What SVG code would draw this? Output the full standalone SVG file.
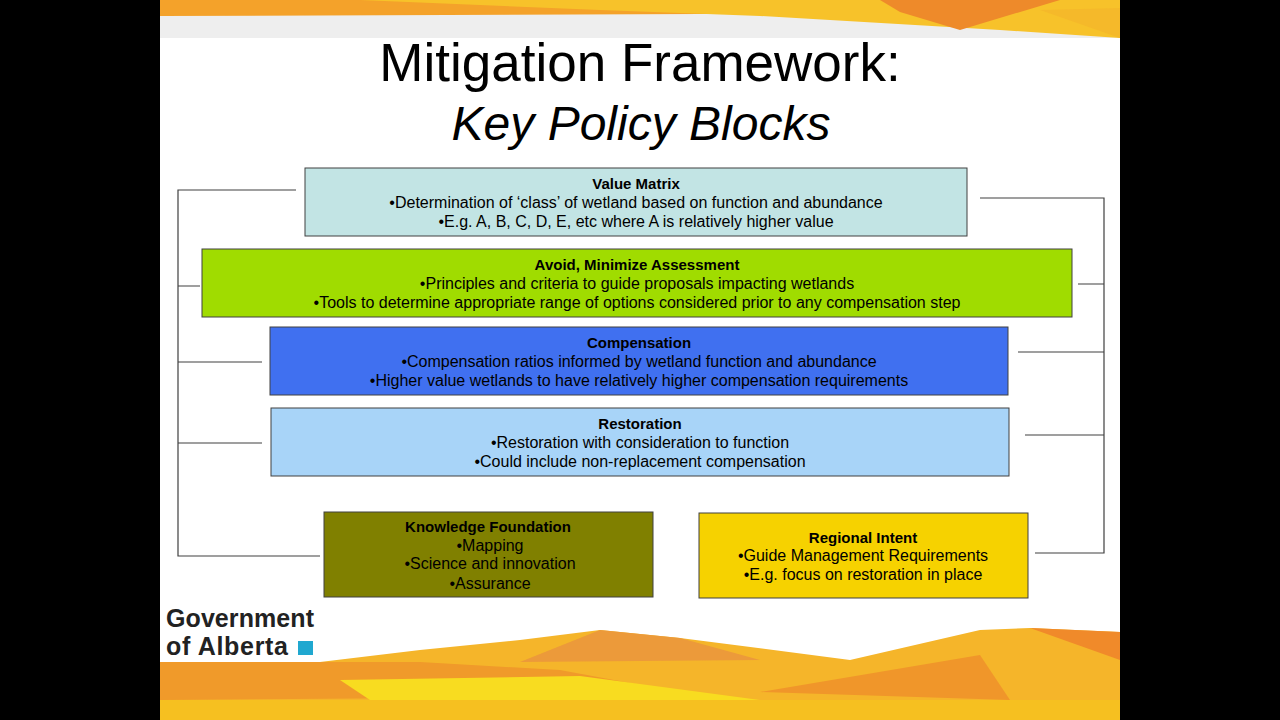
<svg xmlns="http://www.w3.org/2000/svg" width="1280" height="720" viewBox="0 0 1280 720">
<style>
.b{stroke:#404040;stroke-width:1}
.t{font-family:"Liberation Sans",Arial,"Noto Sans CJK SC",sans-serif;font-size:16px;fill:#000;text-anchor:middle}
.h{font-weight:bold;font-size:15px}
.c{stroke:#404040;stroke-width:1.2;fill:none}
</style>
<rect width="1280" height="720" fill="#000"/>
<rect x="160" y="0" width="960" height="720" fill="#fff"/>
<rect x="160" y="12" width="960" height="26" fill="#eeeeee"/>
<polygon points="160,0 1120,0 1120,10 900,12 700,14 160,16" fill="#f4a22a"/>
<polygon points="360,0 1120,0 1120,38 1000,30 760,16 600,10" fill="#f7c22a"/>
<polygon points="880,0 1060,0 960,30 900,12" fill="#ee8a2a"/>
<polygon points="1040,10 1120,8 1120,38" fill="#f5b92a"/>
<polygon points="160,662 320,662 420,650 520,640 600,630 680,638 850,660 980,630 1030,628 1120,632 1120,720 160,720" fill="#f5b52a"/>
<polygon points="160,662 420,662 560,670 700,696 160,700" fill="#f09a2a"/>
<polygon points="340,680 580,676 760,700 400,720" fill="#f8dc20"/>
<polygon points="600,630 680,638 760,660 520,662" fill="#ec9a3a"/>
<polygon points="760,692 980,655 1010,700" fill="#f0962a"/>
<polygon points="1030,628 1120,660 1120,632" fill="#f08a2a"/>
<polygon points="160,700 1120,700 1120,720 160,720" fill="#f6c020"/>
<text x="640" y="81" font-family="Liberation Sans,Arial,sans-serif" font-size="53" text-anchor="middle">Mitigation Framework:</text>
<text x="641" y="140" font-family="Liberation Sans,Arial,sans-serif" font-size="48" font-style="italic" text-anchor="middle">Key Policy Blocks</text>
<g id="connectors">
<path class="c" d="M296,190H178V556H320M178,286H200M178,362H262M178,443H262"/>
<path class="c" d="M980,198H1104V553H1035M1078,284H1104M1018,352H1104M1025,435H1104"/>
</g>
<g id="value-matrix">
<rect class="b" x="305" y="168" width="662" height="68" fill="#c2e4e4"/>
<text class="t h" x="636" y="189">Value Matrix</text>
<text class="t" x="636" y="208">•Determination of ‘class’ of wetland based on function and abundance</text>
<text class="t" x="636" y="227">•E.g. A, B, C, D, E, etc where A is relatively higher value</text>
</g>
<g id="avoid">
<rect class="b" x="202" y="249" width="870" height="68" fill="#a0dc00"/>
<text class="t h" x="637" y="270">Avoid, Minimize Assessment</text>
<text class="t" x="637" y="289">•Principles and criteria to guide proposals impacting wetlands</text>
<text class="t" x="637" y="308">•Tools to determine appropriate range of options considered prior to any compensation step</text>
</g>
<g id="compensation">
<rect class="b" x="270" y="327" width="738" height="68" fill="#4070f0"/>
<text class="t h" x="639" y="348">Compensation</text>
<text class="t" x="639" y="367">•Compensation ratios informed by wetland function and abundance</text>
<text class="t" x="639" y="386">•Higher value wetlands to have relatively higher compensation requirements</text>
</g>
<g id="restoration">
<rect class="b" x="271" y="408" width="738" height="68" fill="#a8d4f8"/>
<text class="t h" x="640" y="429">Restoration</text>
<text class="t" x="640" y="448">•Restoration with consideration to function</text>
<text class="t" x="640" y="467">•Could include non-replacement compensation</text>
</g>
<g id="knowledge">
<rect class="b" x="324" y="512" width="329" height="85" fill="#808000"/>
<text class="t h" x="488" y="532">Knowledge Foundation</text>
<text class="t" x="490" y="551">•Mapping</text>
<text class="t" x="490" y="569">•Science and innovation</text>
<text class="t" x="490" y="589">•Assurance</text>
</g>
<g id="regional">
<rect class="b" x="699" y="513" width="329" height="85" fill="#f6d200"/>
<text class="t h" x="863" y="543">Regional Intent</text>
<text class="t" x="863" y="561">•Guide Management Requirements</text>
<text class="t" x="863" y="580">•E.g. focus on restoration in place</text>
</g>
<g id="logo">
<text x="166" y="627" font-family="Liberation Sans Narrow,Liberation Sans,sans-serif" font-weight="bold" font-size="25" fill="#222" textLength="148">Government</text>
<text x="166" y="655" font-family="Liberation Sans Narrow,Liberation Sans,sans-serif" font-weight="bold" font-size="25" fill="#222" textLength="122">of Alberta</text>
<rect x="298" y="641" width="15" height="14" fill="#20a8d0"/>
</g>
</svg>
